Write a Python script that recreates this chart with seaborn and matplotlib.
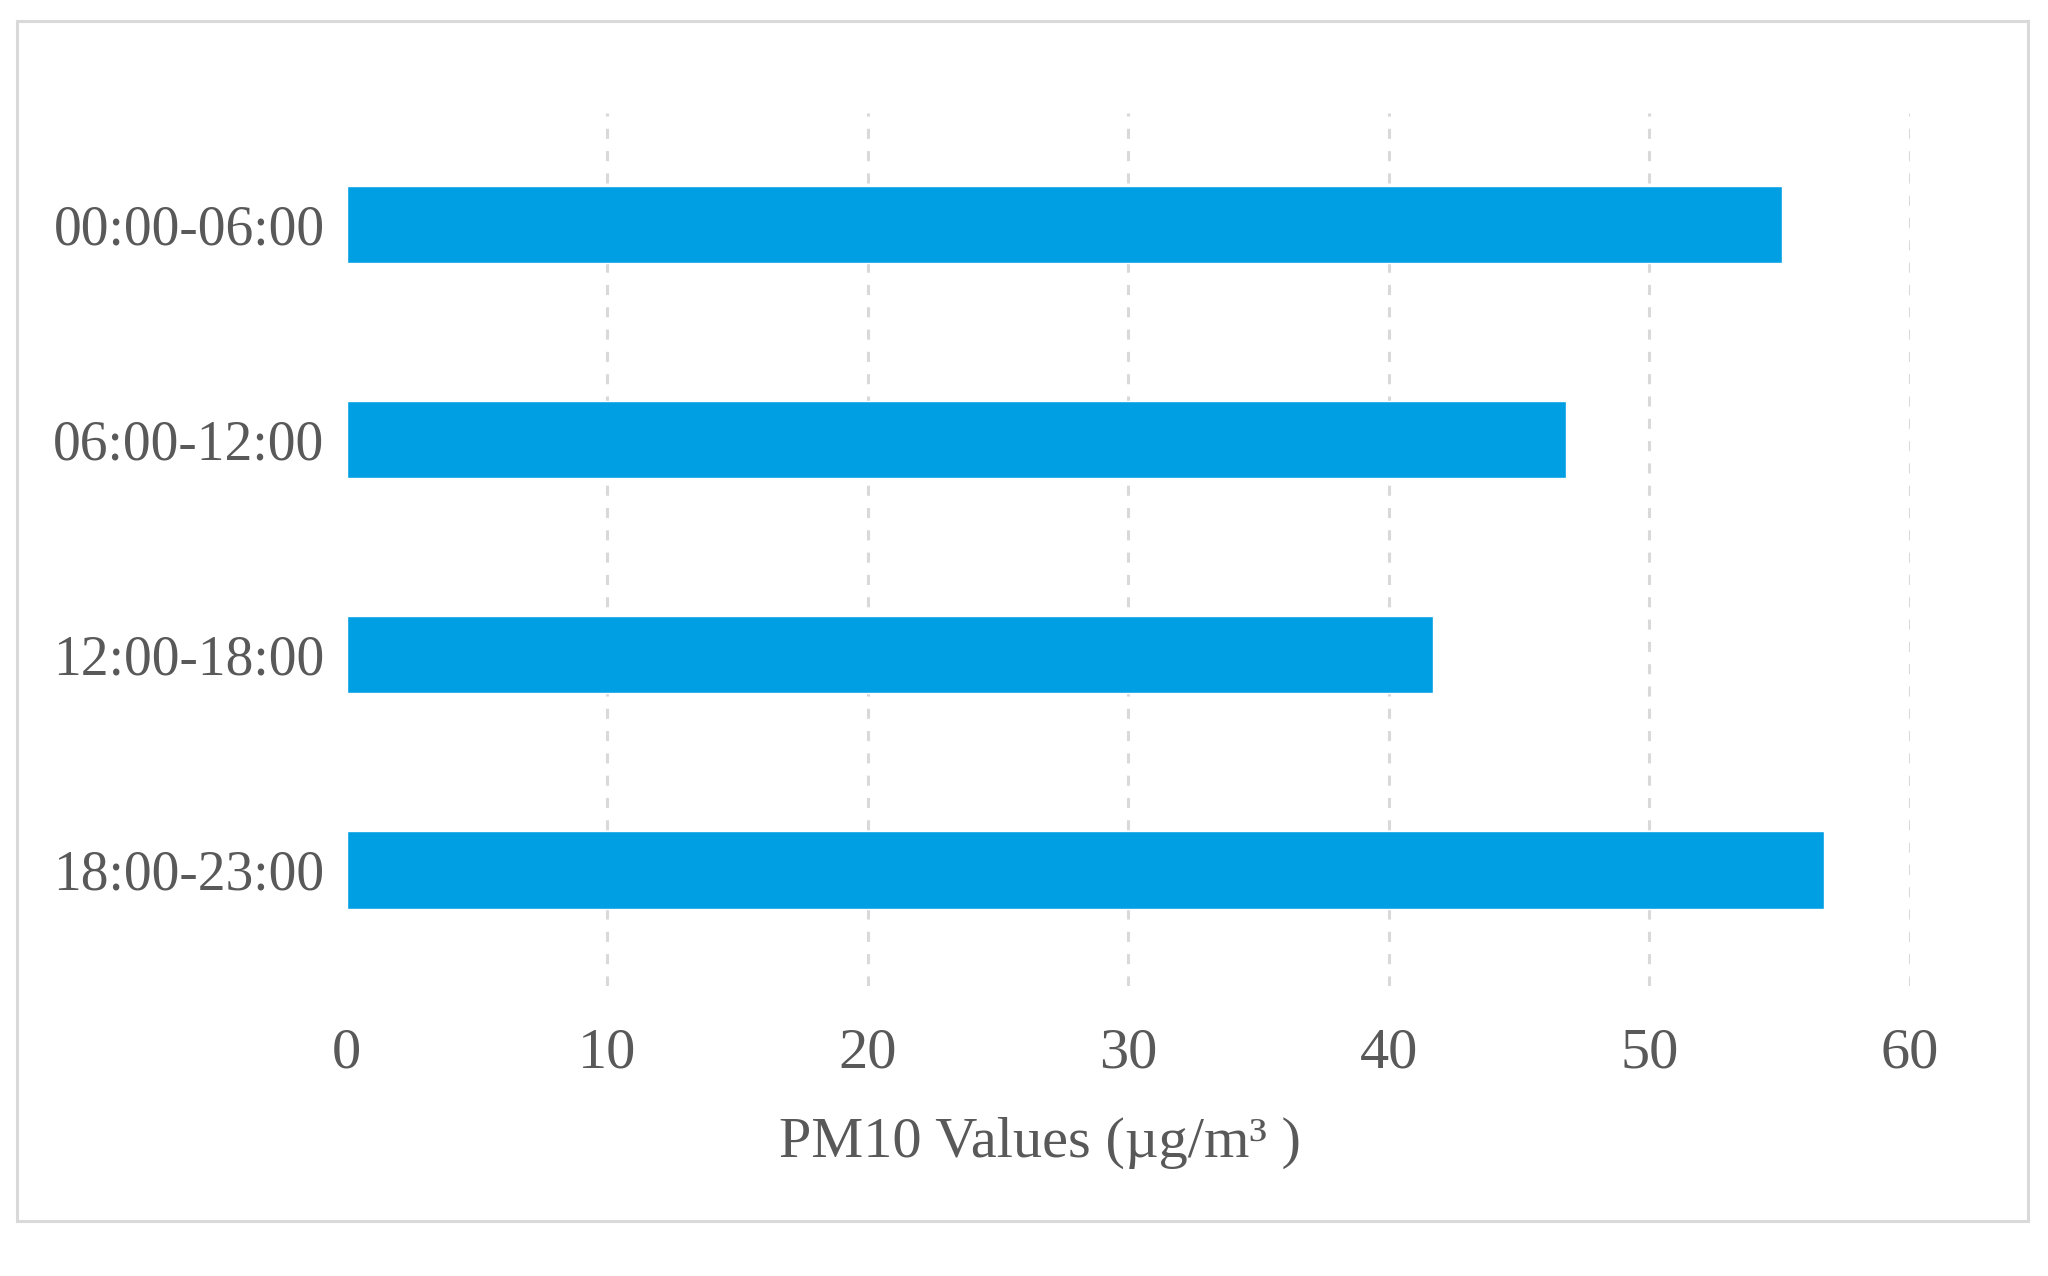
import matplotlib
matplotlib.use("Agg")
import matplotlib.pyplot as plt
import seaborn as sns
import pandas as pd
from matplotlib.patches import Rectangle

categories = ["00:00-06:00", "06:00-12:00", "12:00-18:00", "18:00-23:00"]
values = [55.1, 46.8, 41.7, 56.7]
x_ticks = [0, 10, 20, 30, 40, 50, 60]
x_label = "PM10 Values (µg/m³ )"

df = pd.DataFrame({"period": categories, "pm10": values})

sns.set_theme(style="white")
plt.rcParams["font.family"] = ["Liberation Serif", "DejaVu Serif"]

TXT = "#595959"
fig = plt.figure(figsize=(20.48, 12.76), dpi=100)
ax = fig.add_axes([0.1693, 0.2273, 0.7632, 0.6845])

sns.barplot(data=df, x="pm10", y="period", orient="h", color="#009FE3",
            saturation=1, width=0.36, ax=ax, zorder=3)

ax.set_xlim(0, 60)
ax.set_ylim(3.54, -0.52)
ax.set_xticks(x_ticks)
ax.set_xticklabels([str(t) for t in x_ticks])
ax.xaxis.grid(True, color="#d9d9d9", linewidth=2.2, linestyle=(0, (3.3, 4)), zorder=0)
ax.yaxis.grid(False)
ax.xaxis.get_gridlines()[0].set_visible(False)
for s in ax.spines.values():
    s.set_visible(False)
ax.tick_params(axis="x", length=0, pad=30, labelsize=42, colors=TXT)
ax.tick_params(axis="y", length=0, pad=16, labelsize=40, colors=TXT)
ax.set_ylabel("")
ax.set_xlabel(x_label, fontsize=42, color=TXT)
ax.xaxis.set_label_coords((1040 - 346.8) / 1563.0, -0.15)

fig.patches.append(Rectangle((17 / 2048, 1 - 1221 / 1276), (2028 - 17) / 2048,
                             (1221 - 21) / 1276, transform=fig.transFigure,
                             fill=False, edgecolor="#d9d9d9", linewidth=2.2))

fig.savefig("out.png", dpi=100, facecolor="white")
